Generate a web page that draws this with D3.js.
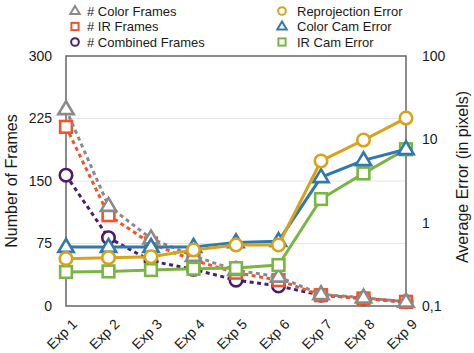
<!DOCTYPE html>
<html>
<head>
<meta charset="utf-8">
<script src="https://cdn.jsdelivr.net/npm/d3@7"></script>
<style>
  body { margin: 0; background: #fff; }
  text { font-family: "Liberation Sans", Arial, sans-serif; fill: #1a1a1a; }
</style>
</head>
<body>
<div id="chart"></div>
<script>
// experiments on the x axis
const experiments = ["Exp 1", "Exp 2", "Exp 3", "Exp 4", "Exp 5", "Exp 6", "Exp 7", "Exp 8", "Exp 9"];

// frame counts (left axis)
const colorFrames    = [236, 120, 81, 60, 43, 35, 14, 10, 5];
const irFrames       = [215, 109, 75, 55, 40, 31, 13, 9, 5];
const combinedFrames = [157, 82, 54, 44, 31, 24, 13, 9, 5];

// average errors in pixels (right axis, log)
const reprojError   = [0.37, 0.38, 0.39, 0.47, 0.54, 0.54, 5.5, 9.8, 18];
const colorCamError = [0.51, 0.51, 0.51, 0.51, 0.58, 0.6, 3.5, 5.6, 7.6];
const irCamError    = [0.256, 0.26, 0.27, 0.28, 0.285, 0.31, 1.92, 3.9, 7.6];

const leftTicks = [0, 75, 150, 225, 300];
const rightTicks = [0.1, 1, 10, 100];
const rightTickLabels = ["0,1", "1", "10", "100"];

const width = 474, height = 353;
const margin = {top: 56, right: 68, bottom: 47, left: 66};

const svg = d3.select("#chart").append("svg")
  .attr("width", width)
  .attr("height", height);

const x = d3.scalePoint()
  .domain(experiments)
  .range([margin.left, width - margin.right]);

const yLeft = d3.scaleLinear()
  .domain([0, 300])
  .range([height - margin.bottom, margin.top]);

const yRight = d3.scaleLog()
  .domain([0.1, 100])
  .range([height - margin.bottom, margin.top]);

// gridlines
svg.append("g")
  .selectAll("line")
  .data(leftTicks.filter(d => d > 0 && d < 300))
  .join("line")
    .attr("x1", margin.left).attr("x2", width - margin.right)
    .attr("y1", d => yLeft(d)).attr("y2", d => yLeft(d))
    .attr("stroke", "#e6e6e6")
    .attr("stroke-width", 1);

// frame box
svg.append("rect")
  .attr("x", margin.left)
  .attr("y", margin.top)
  .attr("width", width - margin.left - margin.right)
  .attr("height", height - margin.top - margin.bottom)
  .attr("fill", "none")
  .attr("stroke", "#666")
  .attr("stroke-width", 1.5);

// left axis labels
svg.append("g")
  .attr("transform", `translate(${margin.left},0)`)
  .call(d3.axisLeft(yLeft).tickValues(leftTicks).tickSize(0).tickPadding(14))
  .call(g => g.select(".domain").remove())
  .call(g => g.selectAll("text").attr("font-size", 14).attr("fill", "#1a1a1a")
    .style("font-family", '"Liberation Sans", Arial, sans-serif'));

// right axis labels
svg.append("g")
  .attr("transform", `translate(${width - margin.right},0)`)
  .call(d3.axisRight(yRight).tickValues(rightTicks)
    .tickFormat((d, i) => rightTickLabels[i]).tickSize(0).tickPadding(16))
  .call(g => g.select(".domain").remove())
  .call(g => g.selectAll("text").attr("font-size", 14).attr("fill", "#1a1a1a")
    .style("font-family", '"Liberation Sans", Arial, sans-serif'));

// x labels, rotated
svg.append("g")
  .selectAll("text")
  .data(experiments)
  .join("text")
    .attr("transform", d => `translate(${x(d) + 12},${height - margin.bottom + 19}) rotate(-45)`)
    .attr("text-anchor", "end")
    .attr("font-size", 14)
    .text(d => d);

// axis titles
svg.append("text")
  .attr("transform", `translate(17,${(margin.top + height - margin.bottom) / 2}) rotate(-90)`)
  .attr("text-anchor", "middle")
  .attr("font-size", 16)
  .text("Number of Frames");

svg.append("text")
  .attr("transform", `translate(468,${(margin.top + height - margin.bottom) / 2 - 4}) rotate(-90)`)
  .attr("text-anchor", "middle")
  .attr("font-size", 16)
  .text("Average Error (in pixels)");

// series, drawn back to front
const series = [
  {name: "# Combined Frames", values: combinedFrames, y: yLeft, color: "#4b1d6f", shape: "circle", dashed: true},
  {name: "# IR Frames", values: irFrames, y: yLeft, color: "#f2542a", shape: "square", dashed: true},
  {name: "# Color Frames", values: colorFrames, y: yLeft, color: "#8a8a8a", shape: "triangle", dashed: true},
  {name: "IR Cam Error", values: irCamError, y: yRight, color: "#79b543", shape: "square", dashed: false},
  {name: "Color Cam Error", values: colorCamError, y: yRight, color: "#3079aa", shape: "triangle", dashed: false},
  {name: "Reprojection Error", values: reprojError, y: yRight, color: "#d8a21a", shape: "circle", dashed: false}
];

function drawMarker(g, shape, color, size) {
  if (shape === "circle") {
    g.append("circle").attr("r", size * 0.48);
  } else if (shape === "square") {
    g.append("rect").attr("x", -size * 0.45).attr("y", -size * 0.45)
      .attr("width", size * 0.9).attr("height", size * 0.9);
  } else {
    const s = size * 0.62;
    g.append("path").attr("d", `M0,${-s} L${s * 0.95},${s * 0.6} L${-s * 0.95},${s * 0.6} Z`);
  }
  g.selectAll("circle,rect,path")
    .attr("fill", "#fff")
    .attr("stroke", color)
    .attr("stroke-width", 2.6);
}

series.forEach(s => {
  const line = d3.line()
    .x((d, i) => x(experiments[i]))
    .y(d => s.y(d));

  svg.append("path")
    .datum(s.values)
    .attr("fill", "none")
    .attr("stroke", s.color)
    .attr("stroke-width", 3)
    .attr("stroke-dasharray", s.dashed ? "4,3.5" : null)
    .attr("d", line);

  s.values.forEach((v, i) => {
    const g = svg.append("g")
      .attr("transform", `translate(${x(experiments[i])},${s.y(v)})`);
    drawMarker(g, s.shape, s.color, 13);
  });
});

// legend
const legendCols = [
  {x: 75, textX: 87, items: ["# Color Frames", "# IR Frames", "# Combined Frames"]},
  {x: 282, textX: 297, items: ["Reprojection Error", "Color Cam Error", "IR Cam Error"]}
];

legendCols.forEach(col => {
  col.items.forEach((name, i) => {
    const s = series.find(d => d.name === name);
    const yy = 11 + i * 15.5;
    const g = svg.append("g").attr("transform", `translate(${col.x},${yy})`);
    drawMarker(g, s.shape, s.color, 8);
    g.selectAll("circle,rect,path").attr("stroke-width", 2);
    svg.append("text")
      .attr("x", col.textX)
      .attr("y", yy)
      .attr("dy", "0.36em")
      .attr("font-size", 13)
      .text(name);
  });
});
</script>
</body>
</html>
